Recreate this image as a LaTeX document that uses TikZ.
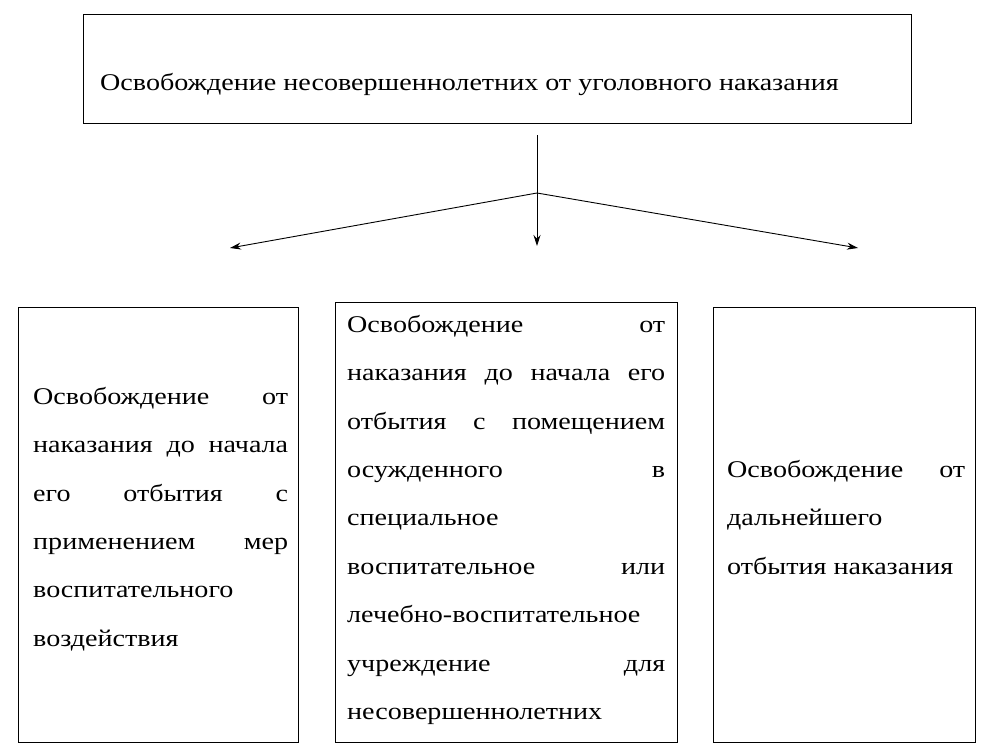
\documentclass[tikz,border=0pt]{standalone}
\usepackage{fontspec}
\setmainfont[FakeStretch=1.17]{Liberation Serif}
\usetikzlibrary{arrows.meta}
\begin{document}
\begin{tikzpicture}[x=1pt,y=-1pt,
  box/.style={draw,line width=1pt},
  txt/.style={anchor=north west,inner sep=0pt,align=justify,font=\fontsize{24}{48.4}\selectfont},
  arr/.style={-{Stealth[length=11pt,width=7pt]},line width=0.9pt}]
\useasboundingbox (0,0) rectangle (986,752);
\draw[box] (83,15) rectangle (911,123);
\node[anchor=west,inner sep=0pt,font=\fontsize{24}{28}\selectfont] (t) at (100,85) {Освобождение несовершеннолетних от уголовного наказания};
\coordinate (a) at (537,135);
\coordinate (b) at (537,193);
\coordinate (l) at (230,248);
\coordinate (m) at (537,246);
\coordinate (r) at (858,248);
\draw[line width=0.9pt] (a) -- (b);
\draw[arr] (b) -- (l);
\draw[arr] (b) -- (m);
\draw[arr] (b) -- (r);
\draw[box] (18,307) rectangle (298,742);
\draw[box] (335,302) rectangle (677,742);
\draw[box] (713,307) rectangle (975,742);
\hyphenpenalty=10000
\node[txt,text width=255pt] (lt) at (33,387) {Освобождение от\linebreak наказания до начала\linebreak его отбытия с\linebreak применением мер\linebreak воспитательного\\ воздействия\par};
\node[txt,text width=318pt] (mt) at (347,315) {Освобождение от\linebreak наказания до начала его\linebreak отбытия с помещением\linebreak осужденного в\linebreak специальное\\ воспитательное или\linebreak лечебно-воспитательное\\ учреждение для\linebreak несовершеннолетних\par};
\node[txt,text width=238pt] (rt) at (727,460) {Освобождение от\linebreak дальнейшего\\ отбытия наказания\par};
\end{tikzpicture}
\end{document}
